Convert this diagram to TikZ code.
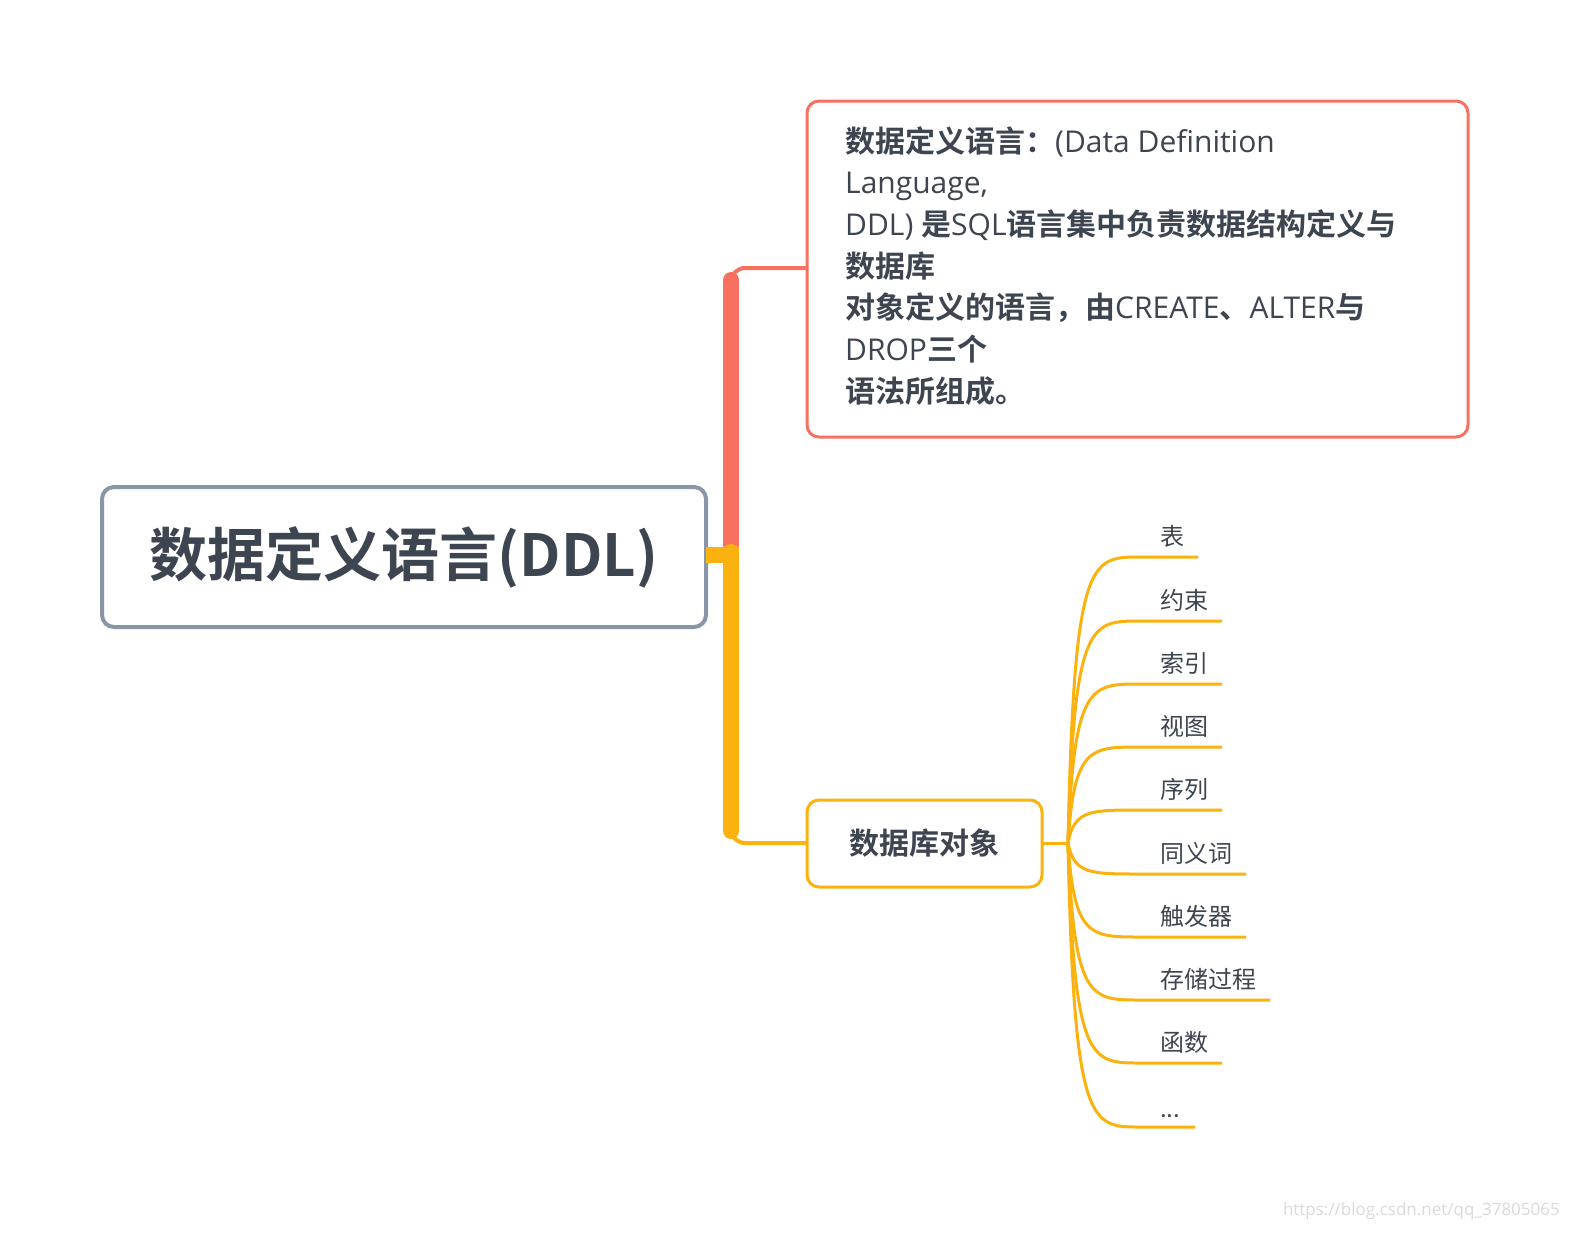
\documentclass[tikz,border=0pt]{standalone}
\usepackage{fontspec}
\setmainfont{Open Sans}
\newfontfamily\cjk{Noto Sans CJK SC}
\newfontfamily\cjkb{Noto Sans CJK SC Bold}
\definecolor{txt}{HTML}{3D4550}
\definecolor{gr}{HTML}{8A96A8}
\definecolor{rd}{HTML}{F87060}
\definecolor{yl}{HTML}{FBB20E}
\newcommand{\mydots}{...}
\begin{document}
\begin{tikzpicture}[x=1pt,y=-1pt,
  leaf/.style={anchor=south west,inner sep=0pt,font=\fontsize{24}{24}\cjk,text=txt},
  br/.style={yl,line width=3pt}]
\useasboundingbox (0,0) rectangle (1586,1242);
% central
\draw[gr,line width=4pt,rounded corners=12pt,fill=white] (102,487) rectangle (706,627);
\node[text=txt,font=\fontsize{58}{58}\cjkb] (root) at (404,557) {数据定义语言(DDL)};
% connectors
\draw[rd,line width=4pt,rounded corners=14pt] (731,545) -- (731,268) -- (807,268);
\draw[rd,line width=16pt,line cap=round] (731,545) -- (731,280);
\draw[yl,line width=4pt,rounded corners=14pt] (731,555) -- (731,843) -- (807,843);
\draw[yl,line width=16pt,line cap=round] (731,552) -- (731,831);
\draw[yl,line width=16pt] (706,555) -- (739,555);
% top box
\draw[rd,line width=3pt,rounded corners=12pt,fill=white] (807,101) rectangle (1468,437);
\node[anchor=north west,inner sep=0pt,text=txt,font=\fontsize{30}{41.7}\selectfont,align=left] (def) at (845,126)
{{\cjkb 数据定义语言：}(Data Definition\\Language,\\DDL) {\cjkb 是}SQL{\cjkb 语言集中负责数据结构定义与}\\{\cjkb 数据库}\\{\cjkb 对象定义的语言，由}CREATE{\cjkb 、}ALTER{\cjkb 与}\\DROP{\cjkb 三个}\\{\cjkb 语法所组成。}};
% bottom box
\draw[yl,line width=3pt,rounded corners=12pt,fill=white] (807,800) rectangle (1042,887);
\node[text=txt,font=\fontsize{30}{30}\cjkb] (obj) at (924,843) {数据库对象};
\coordinate (hub) at (1068,843);
\draw[br] (1042,843) -- (hub);
\foreach \n/\t/\y/\e in {a/表/557/1198,b/约束/621/1222,c/索引/684/1222,d/视图/747/1222,e/序列/810/1222,f/同义词/874/1246,g/触发器/937/1246,h/存储过程/1000/1270,i/函数/1063/1222,j/\mydots/1127/1195}{
  \node[leaf] (\n) at (1160,\y-9) {\t};
  \draw[br] (hub) .. controls (1074,\y) and (1090,\y) .. (1140,\y) -- (\e,\y);
}
\node[anchor=south east,inner sep=0pt,text=black!15,font=\fontsize{17}{17}\selectfont] (wm) at (1560,1220) {https://blog.csdn.net/qq\_37805065};
\end{tikzpicture}
\end{document}
